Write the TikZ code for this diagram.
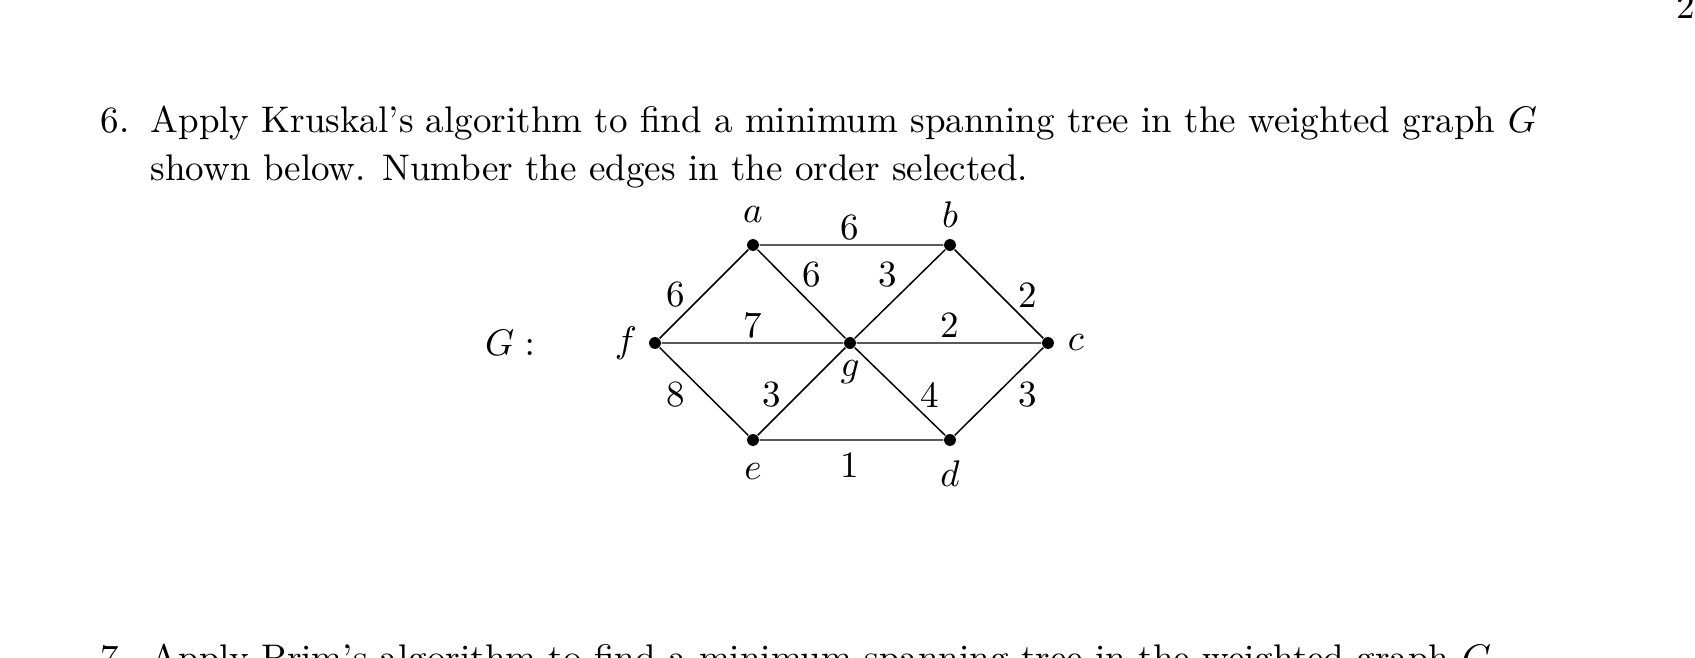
\documentclass[tikz,border=0pt]{standalone}
\begin{document}
\begin{tikzpicture}[x=0.27pt,y=-0.27pt,
  v/.style={circle,fill,inner sep=0pt,minimum size=3.2pt},
  lab/.style={inner sep=0pt},
  txt/.style={anchor=base west,inner sep=0pt}]
\path[use as bounding box] (0,0) rectangle (1695,658);
\clip (0,0) rectangle (1695,658);
\node[txt] (n6) at (100,132) {6.};
\node[txt] (l1) at (150,132) {Apply Kruskal's algorithm to find a minimum spanning tree in the weighted graph $G$};
\node[txt] (l2) at (150,180) {shown below. Number the edges in the order selected.};
\node[txt] (pg) at (1676,18) {2};
\node[txt] (n7) at (100,670) {7.};
\node[txt] (l7) at (150,670) {Apply Prim's algorithm to find a minimum spanning tree in the weighted graph $G$};
\node[v] (a) at (753,245) {};
\node[v] (b) at (950,245) {};
\node[v] (c) at (1048,343) {};
\node[v] (d) at (950,440) {};
\node[v] (e) at (753,440) {};
\node[v] (f) at (655,343) {};
\node[v] (g) at (850,343) {};
\draw (a)--(b) (b)--(c) (c)--(d) (d)--(e) (e)--(f) (f)--(a)
      (a)--(g) (b)--(g) (c)--(g) (d)--(g) (e)--(g) (f)--(g);
\node[lab] (la) at (753,215) {$a$};
\node[lab] (lb) at (950,215) {$b$};
\node[lab] (lc) at (1076,343) {$c$};
\node[lab] (ld) at (950,474) {$d$};
\node[lab] (le) at (753,472) {$e$};
\node[lab] (lf) at (626,343) {$f$};
\node[lab] (lg) at (850,372) {$g$};
\node[lab] (lG) at (510,343) {$G:$};
\node[lab] (w1) at (850,228) {6};
\node[lab] (w2) at (812,275) {6};
\node[lab] (w3) at (888,275) {3};
\node[lab] (w4) at (676,295) {6};
\node[lab] (w5) at (1028,295) {2};
\node[lab] (w6) at (753,325) {7};
\node[lab] (w7) at (950,325) {2};
\node[lab] (w8) at (676,395) {8};
\node[lab] (w9) at (772,395) {3};
\node[lab] (w10) at (930,395) {4};
\node[lab] (w11) at (1028,395) {3};
\node[lab] (w12) at (850,465) {1};
\end{tikzpicture}
\end{document}
